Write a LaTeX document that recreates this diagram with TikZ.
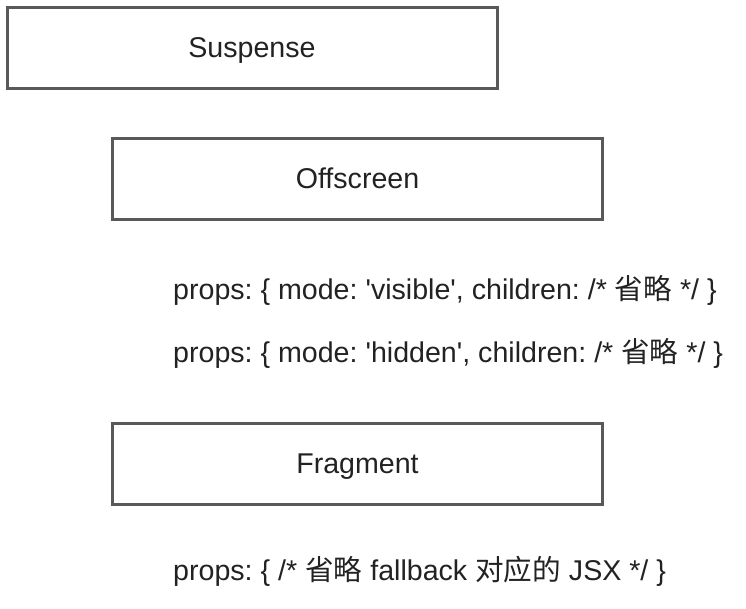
\documentclass[tikz,border=0pt]{standalone}
\usepackage{fontspec}
\setmainfont{Liberation Sans}
\newfontfamily\cjk{Noto Sans CJK SC}
\definecolor{edgegray}{HTML}{595959}
\definecolor{textgray}{HTML}{222222}
\frenchspacing

\tikzset{
    box/.style={draw=edgegray,line width=3pt,minimum width=490pt,minimum height=81pt,
                inner sep=0pt,text height=20.5pt,text depth=0pt,text=textgray,
                font=\fontsize{28.6}{32}\selectfont},
    propline/.style={anchor=west,inner sep=0pt,text=textgray,font=\fontsize{28.6}{32}\selectfont}
}

\begin{document}
\begin{tikzpicture}[x=1pt,y=-1pt]
            \useasboundingbox (0,0) rectangle (746,608);

            \node [box] (suspense)  at (252,47.5)    {Suspense};
            \node [box] (offscreen) at (357.5,178.5) {Offscreen};
            \node [box] (fragment)  at (357.5,463.5) {Fragment};

            % props of Offscreen, then of Fragment
            \node [propline] (visibleProps)  at (173,290) {props: \{ mode: \textquotesingle visible\textquotesingle, children: /* {\cjk 省略} */ \}};
            \node [propline] (hiddenProps)   at (173,353) {props: \{ mode: \textquotesingle hidden\textquotesingle, children: /* {\cjk 省略} */ \}};
            \node [propline] (fallbackProps) at (173,571) {props: \{ /* {\cjk 省略} fallback {\cjk 对应的} JSX */ \}};
        \end{tikzpicture}
\end{document}
